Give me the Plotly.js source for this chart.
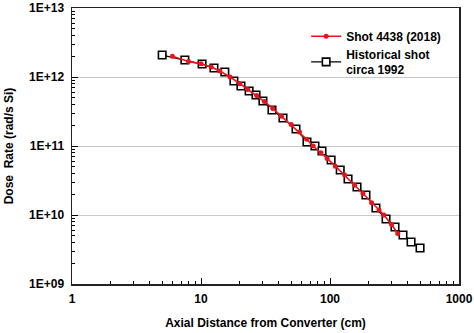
<!DOCTYPE html>
<html>
<head>
<meta charset="utf-8">
<script src="https://cdn.plot.ly/plotly-3.0.1.min.js"></script>
<style>html,body{margin:0;padding:0;background:#fff;}#chart{width:474px;height:333px;}</style>
</head>
<body>
<div id="chart"></div>
<script>
// Historical shot circa 1992 (black open squares)
const histX = [5.0, 7.5, 10.2, 12.6, 15.3, 18, 20.4, 23.6, 26.7, 30.2, 35.5, 43.2, 54.5, 66.3, 76.5, 86.7, 102, 120, 138, 162, 190, 227, 272, 319, 368, 425, 499];
const histY = [2.08e12, 1.76e12, 1.54e12, 1.35e12, 1.18e12, 8.75e11, 7.41e11, 6.27e11, 5.48e11, 4.49e11, 3.32e11, 2.55e11, 1.76e11, 1.14e11, 1.0e11, 8.47e10, 6.27e10, 4.49e10, 3.32e10, 2.55e10, 1.95e10, 1.26e10, 8.75e9, 6.7e9, 5.13e9, 4.06e9, 3.32e9];
// Shot 4438 (2018) (red dots)
const shotX = [6, 8, 10, 12, 14, 16.8, 20, 23, 27, 31, 36, 42, 50, 58, 66, 74, 85, 95, 110, 130, 155, 180, 210, 240, 262, 300, 335];
const shotY = [2.0e12, 1.68e12, 1.55e12, 1.40e12, 1.22e12, 1.0e12, 8.0e11, 6.6e11, 5.4e11, 4.4e11, 3.5e11, 2.7e11, 2.05e11, 1.6e11, 1.25e11, 1.0e11, 8.0e10, 6.6e10, 5.1e10, 3.8e10, 2.7e10, 2.05e10, 1.5e10, 1.18e10, 1.0e10, 7.3e9, 5.4e9];
// Tick labels
const xTickVals = [1, 10, 100, 1000];
const xTickText = ["1", "10", "100", "1000"];
const yTickVals = [1e9, 1e10, 1e11, 1e12, 1e13];
const yTickText = ["1E+09", "1E+10", "1E+11", "1E+12", "1E+13"];

const bold = {family: 'Arial, "Liberation Sans", sans-serif', size: 12, color: '#000', weight: 'bold'};

const traces = [
  {
    x: histX, y: histY, name: 'Historical shot<br>circa 1992', type: 'scatter', mode: 'lines+markers',
    line: {color: '#000', width: 1.2},
    marker: {symbol: 'square', size: 7.5, color: '#fff', line: {color: '#000', width: 1.6}},
    legend: 'legend2'
  },
  {
    x: shotX, y: shotY, name: 'Shot 4438 (2018)', type: 'scatter', mode: 'lines+markers',
    line: {color: '#e8141b', width: 1.6},
    marker: {symbol: 'circle', size: 5, color: '#e8141b'},
    legend: 'legend'
  }
];

const legendBase = {xanchor: 'left', yanchor: 'top', bgcolor: 'rgba(0,0,0,0)', font: bold, itemwidth: 30, tracegroupgap: 0};

const layout = {
  width: 474, height: 333,
  margin: {l: 72, r: 15, t: 8, b: 49},
  paper_bgcolor: '#fff', plot_bgcolor: '#fff',
  font: bold,
  showlegend: true,
  legend: Object.assign({x: 0.605, y: 0.95}, legendBase),
  legend2: Object.assign({x: 0.605, y: 0.885}, legendBase),
  xaxis: {
    type: 'log', range: [0, 3],
    tickmode: 'array', tickvals: xTickVals, ticktext: xTickText,
    ticks: 'inside', ticklen: 6, tickwidth: 1, tickcolor: '#000',
    minor: {ticks: 'inside', ticklen: 3, dtick: 'D1', tickcolor: '#000', showgrid: false},
    showline: true, linecolor: '#222', linewidth: 1.5, mirror: true,
    showgrid: false, zeroline: false,
    tickfont: bold, ticklabelstandoff: 3,
    title: {text: 'Axial Distance from Converter (cm)', font: bold, standoff: 13}
  },
  yaxis: {
    type: 'log', range: [9, 13],
    tickmode: 'array', tickvals: yTickVals, ticktext: yTickText,
    ticks: 'inside', ticklen: 6, tickwidth: 1, tickcolor: '#000',
    minor: {ticks: 'inside', ticklen: 3, dtick: 'D1', tickcolor: '#000', showgrid: false},
    showline: true, linecolor: '#222', linewidth: 1.5, mirror: true,
    showgrid: true, gridcolor: '#c8c8c8', gridwidth: 1, zeroline: false,
    tickfont: bold, ticklabelstandoff: 4,
    title: {text: 'Dose\u00a0 Rate (rad/s Si)', font: bold, standoff: 13}
  }
};

Plotly.newPlot('chart', traces, layout, {displayModeBar: false, staticPlot: true});
</script>
</body>
</html>
